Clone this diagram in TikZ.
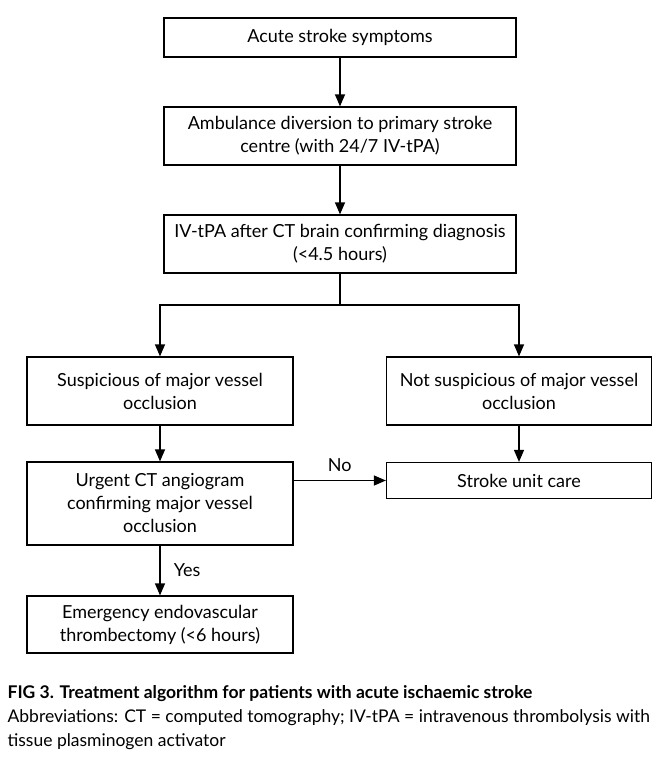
\documentclass[tikz,border=0pt]{standalone}
\usepackage{fontspec}
\setmainfont{Lato}
\usepackage{tikz}
\usetikzlibrary{arrows.meta}

\begin{document}
\begin{tikzpicture}[x=1pt,y=-1pt,line width=1.2pt,font=\fontsize{18}{23}\selectfont,
    box/.style n args={2}{draw,rectangle,align=center,inner sep=0pt,minimum width=#1pt,minimum height=#2pt},
    arr/.style={-{Triangle[length=12pt,width=10pt]}}]
    \useasboundingbox (0,0) rectangle (665,760);
    \node[box={352}{39}](symp) at(340,37.5) {Acute stroke symptoms};
    \node[box={352}{58}](amb) at(340,136) {Ambulance diversion to primary stroke\\centre (with 24/7 IV-tPA)};
    \node[box={352}{58}](ivtpa) at(340,244) {IV-tPA after CT brain confirming diagnosis\\(<4.5 hours)};
    \node[box={266}{68}](susp) at(160,391) {Suspicious of major vessel\\occlusion};
    \node[box={265}{68}](nsusp) at(519,391) {Not suspicious of major vessel\\occlusion};
    \node[box={266}{83}](ctang) at(160,503.5) {Urgent CT angiogram\\confirming major vessel\\occlusion};
    \node[box={265}{36}](unit) at(519,480.5) {Stroke unit care};
    \node[box={266}{57}](endo) at(160,624.5) {Emergency endovascular\\thrombectomy (<6 hours)};
    \coordinate (split) at (340,305);
    \draw[arr] (symp) -- (amb);
    \draw[arr] (amb) -- (ivtpa);
    \draw (ivtpa) -- (split);
    \foreach \n in {susp,nsusp} {
       \draw[arr] (split) -| (\n);
    }
    \draw[arr] (susp) -- (ctang);
    \draw[arr] (nsusp) -- (unit);
    \draw[arr] (unit -| ctang.east) -- node[above=5pt]{No} (unit.west);
    \draw[arr] (ctang) -- node[right=10pt]{Yes} (endo);
    \node[anchor=base west,align=left,inner sep=0pt,font=\fontsize{17.5}{24}\selectfont](cap) at(7,746)
       {\textbf{FIG 3. Treatment algorithm for patients with acute ischaemic stroke}\\
        Abbreviations: CT = computed tomography; IV-tPA = intravenous thrombolysis with\\
        tissue plasminogen activator};
\end{tikzpicture}
\end{document}
